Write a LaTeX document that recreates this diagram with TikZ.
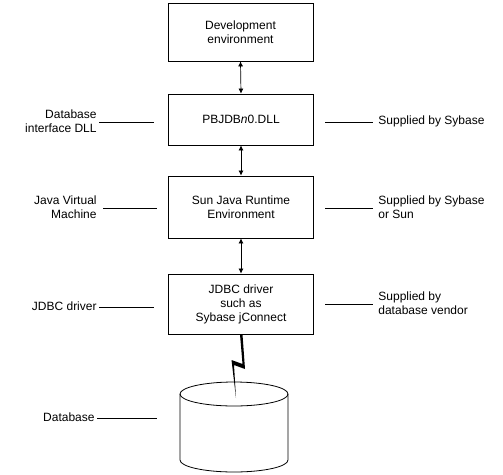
\documentclass[tikz,border=0pt]{standalone}
\usepackage{fontspec}
\setmainfont{Liberation Sans}
\usetikzlibrary{arrows.meta}
\begin{document}
\begin{tikzpicture}[x=1pt, y=-1pt, line width=0.8pt,
    every node/.style={font=\fontsize{12}{14}\selectfont},
    box/.style={draw, minimum width=145pt, align=center, inner sep=0pt},
    lbl/.style={inner sep=0pt},
    link/.style={line width=0.7pt, {Latex[length=5pt,width=5pt]}-{Latex[length=5pt,width=5pt]}}]
    \useasboundingbox (0,0) rectangle (503,474);
    % stack of layers
    \node[box, minimum height=58pt] (dev) at (240.5,32) {Development\\environment};
    \node[box, minimum height=51pt] (dll) at (241,119.5) {PBJDB\textit{n}0.DLL};
    \node[box, minimum height=62pt] (jre) at (241,207) {Sun Java Runtime\\Environment};
    \node[box, minimum height=60pt] (drv) at (241,304) {JDBC driver\\such as\\Sybase jConnect};
    \draw[link] (dev.south) -- (dll.north);
    \draw[link] (dll.south) -- (jre.north);
    \draw[link] (jre.south) -- (drv.north);
    % left labels
    \node[lbl, anchor=east, align=right] (ldll) at (97,121) {Database\\interface DLL};
    \node[lbl, anchor=east, align=right] (ljre) at (97,207) {Java Virtual\\Machine};
    \node[lbl, anchor=east] (ldrv) at (97,306) {JDBC driver};
    \node[lbl, anchor=east] (ldb) at (95,417) {Database};
    \coordinate (cl1) at (154,122);
    \coordinate (cl2) at (157,208);
    \coordinate (cl3) at (154,307);
    \coordinate (cl4) at (157,418);
    \draw ([xshift=2pt]ldll.east |- cl1) -- (cl1);
    \draw ([xshift=6pt]ljre.east |- cl2) -- (cl2);
    \draw ([xshift=2pt]ldrv.east |- cl3) -- (cl3);
    \draw ([xshift=2pt]ldb.east |- cl4) -- (cl4);
    % right labels
    \node[lbl, anchor=west, align=left] (rdll) at (378,121) {Supplied by Sybase};
    \node[lbl, anchor=west, align=left] (rjre) at (378,207) {Supplied by Sybase\\or Sun};
    \node[lbl, anchor=west, align=left] (rdrv) at (378,303) {Supplied by\\database vendor};
    \coordinate (cr1) at (325,122);
    \coordinate (cr2) at (325,208);
    \coordinate (cr3) at (325,304);
    \draw (cr1) -- ([xshift=-5pt]rdll.west |- cr1);
    \draw (cr2) -- ([xshift=-5pt]rjre.west |- cr2);
    \draw (cr3) -- ([xshift=-5pt]rdrv.west |- cr3);
    % database
    \draw (234,394) ellipse [x radius=54pt, y radius=12pt];
    \draw (180,394) -- (180,460) arc [start angle=180, end angle=360, x radius=54pt, y radius=12pt] -- (288,394);
    \coordinate (spark) at (236,398);
    \fill (drv.south) -- ++(1.5,0) -- (245,369) -- (234,365) -- (spark) -- (231.5,360) -- (242.5,364) -- ([xshift=-1pt]drv.south) -- cycle;
\end{tikzpicture}
\end{document}
